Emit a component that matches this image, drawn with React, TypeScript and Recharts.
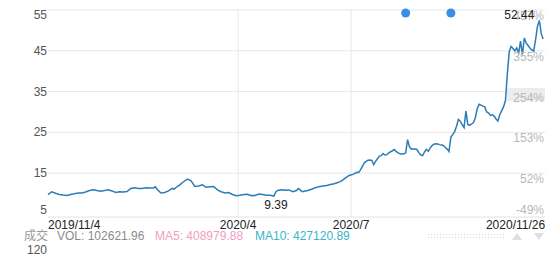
import React from 'react';
import { LineChart, Line, XAxis, YAxis, ReferenceLine, ReferenceDot } from 'recharts';

// trading-day index (position along the time axis)
const days = [
  0, 2, 4, 6, 8, 10, 12, 14, 16, 18, 20, 22, 24, 26, 28, 30, 32, 34, 36, 38, 40, 42, 44, 46, 48, 50,
  52, 54, 56, 57, 58, 60, 62, 64, 66, 67, 68, 70, 72, 74, 76, 78, 80, 82, 84, 86, 88, 90, 92, 94, 96, 98,
  100, 102, 104, 106, 108, 110, 112, 114, 116, 118, 120, 121, 122, 124, 126, 128, 130, 132, 133, 134, 135,
  136, 138, 140, 142, 144, 146, 148, 150, 152, 154, 156, 158, 160, 162, 164, 165, 166, 167, 168, 169, 170,
  171, 172, 173, 174, 175, 176, 177, 178, 179, 180, 181, 182, 183, 184, 185, 186, 187, 188, 189, 190, 191,
  192, 193, 194, 195, 196, 197, 198, 199, 200, 201, 202, 203, 204, 205, 206, 207, 208, 209, 210, 211, 212,
  213, 214, 215, 216, 217, 218, 219, 220, 221, 222, 223, 224, 225, 226, 227, 228, 229, 230, 231, 232, 233,
  234, 235, 236, 237, 238, 239, 240, 241, 242, 243, 244, 245, 246, 247, 248, 249, 250, 251, 252, 253, 254,
  255, 256, 257, 258, 259, 260, 261, 262, 263,
];

const closes = [
  9.75, 10.45, 10.1, 9.78, 9.65, 9.55, 9.78, 9.95, 10.15, 10.15, 10.4, 10.75, 10.94, 10.75, 10.6, 10.75,
  10.94, 10.65, 10.27, 10.45, 10.4, 10.5, 11.26, 11.43, 11.26, 11.26, 11.43, 11.38, 11.38, 11.67, 11.0,
  10.15, 10.27, 10.65, 11.26, 11.08, 11.5, 12.15, 12.9, 13.53, 13.1, 11.75, 11.85, 12.15, 11.55, 11.67,
  11.75, 10.9, 10.45, 10.15, 10.27, 9.78, 9.5, 9.6, 9.78, 9.85, 9.5, 9.55, 9.9, 9.78, 9.6, 9.6, 9.39,
  10.4, 10.75, 10.94, 10.8, 10.9, 10.47, 10.75, 11.26, 10.9, 10.45, 10.57, 10.75, 11.05, 11.45, 11.7,
  11.85, 12.0, 12.25, 12.4, 12.7, 13.1, 13.85, 14.45, 14.7, 15.2, 15.15, 15.8, 16.65, 17.5, 17.9, 18.2,
  18.25, 18.15, 17.1, 17.9, 18.55, 19.2, 19.3, 19.8, 19.45, 19.55, 20.0, 20.25, 20.5, 20.8, 20.25, 20.0,
  19.75, 19.7, 19.75, 20.0, 23.2, 21.5, 20.9, 20.95, 20.9, 20.8, 20.05, 19.45, 19.3, 20.2, 20.85, 20.35,
  21.15, 21.75, 22.1, 22.2, 22.15, 22.0, 21.9, 21.8, 21.35, 20.9, 20.3, 23.85, 24.45, 25.2, 26.5, 28.2,
  27.75, 26.9, 26.2, 30.2, 26.95, 26.7, 27.05, 27.4, 28.6, 30.8, 31.9, 31.7, 31.45, 31.25, 30.0, 29.8,
  29.15, 29.3, 29.0, 28.3, 27.8, 29.4, 30.35, 31.3, 32.8, 39.4, 44.8, 46.05, 45.55, 44.95, 45.7, 44.45,
  47.35, 44.1, 48.1, 46.95, 46.3, 45.7, 45.2, 44.9, 47.75, 51.0, 52.44, 49.2, 47.9,
];

const priceTicks = [5, 15, 25, 35, 45, 55];
const gridPrices = [15, 25, 35, 45, 55];
const priceDomain: [number, number] = [4.26, 55];
const dayDomain: [number, number] = [0, 264];
const dateTickDays = [0, 101, 161, 263];
const dateTickLabels = ['2019/11/4', '2020/4', '2020/7', '2020/11/26'];
const monthLineDays = [101, 161];
const basePrice = 9.88;
const highlightTick = 35;
const highDay = 261;
const highValue = 52.44;
const lowDay = 120;
const lowValue = 9.39;
const eventDays = [190, 214];
const eventMarkerPrice = 54.26;
const volumeTitle = '成交';
const volumeText = 'VOL: 102621.96';
const ma5Text = 'MA5: 408979.88';
const ma10Text = 'MA10: 427120.89';
const volumeTopTick = '120';

const data = days.map((d, i) => ({ d, close: closes[i] }));

const FONT = '"Liberation Sans", Arial, "Noto Sans CJK SC", sans-serif';
const GRID = '#e8e8e8';

const LeftTick = (props: any) => {
  const { x, y, payload } = props;
  const v = payload.value;
  const dy = v === priceTicks[priceTicks.length - 1] ? 5 : v === priceTicks[0] ? -4 : 0;
  return (
    <text x={x} y={y + dy + 4} textAnchor="end" fill="#555" fontSize={12} fontFamily={FONT}>
      {v}
    </text>
  );
};

const makePctLabel = (v: number) => (props: any) => {
  const vb = props.viewBox || {};
  const right = (vb.x || 0) + (vb.width || 0);
  const y = vb.y || 0;
  const pct = Math.round((v / basePrice - 1) * 100);
  const dy = v === priceTicks[0] ? -4 : 6;
  return (
    <g>
      {v === highlightTick && <rect x={right - 38} y={y - 3.6} width={38} height={13} fill="#ececec" />}
      <text x={right - 1} y={y + dy + 4} textAnchor="end" fill="#b8b8b8" fontSize={12} fontFamily={FONT}>
        {pct}%
      </text>
    </g>
  );
};

const DateTick = (props: any) => {
  const { x, y, payload } = props;
  const i = dateTickDays.indexOf(payload.value);
  const last = dateTickDays.length - 1;
  const anchor = i === 0 ? 'start' : i === last ? 'end' : 'middle';
  const dx = i === last ? 2 : 0;
  return (
    <text x={x + dx} y={y + 12} textAnchor={anchor} fill="#222" fontSize={12} fontFamily={FONT}>
      {dateTickLabels[i]}
    </text>
  );
};

const HighLabel = (props: any) => (
  <text x={props.cx - 5} y={props.cy - 1} textAnchor="end" fill="#222" fontSize={12} fontFamily={FONT}>
    {highValue}
  </text>
);

const LowLabel = (props: any) => (
  <text x={props.cx + 2} y={props.cy + 12.5} textAnchor="middle" fill="#222" fontSize={12} fontFamily={FONT}>
    {lowValue}
  </text>
);

const textStyle: React.CSSProperties = {
  position: 'absolute',
  top: 230,
  fontSize: 12,
  lineHeight: '12px',
  fontFamily: FONT,
  whiteSpace: 'nowrap',
};

export default function App() {
  return (
    <div
      style={{
        position: 'absolute',
        left: 0,
        top: 0,
        width: 553,
        height: 257,
        overflow: 'hidden',
        background: '#fff',
      }}
    >
      <div style={{ position: 'absolute', left: 0, top: 0 }}>
        <LineChart width={553} height={257} data={data} margin={{ top: 10, right: 8, left: 0, bottom: 26 }}>
          <XAxis
            dataKey="d"
            type="number"
            domain={dayDomain}
            ticks={dateTickDays}
            interval={0}
            tick={DateTick}
            tickSize={0}
            tickMargin={0}
            tickLine={false}
            axisLine={{ stroke: '#e2e2e2' }}
            height={14}
          />
          <YAxis
            domain={priceDomain}
            ticks={priceTicks}
            interval={0}
            tick={LeftTick}
            tickSize={0}
            tickMargin={1}
            axisLine={false}
            tickLine={false}
            width={48}
          />
          {gridPrices.map((p) => (
            <ReferenceLine key={'h' + p} y={p} stroke={GRID} strokeWidth={1} />
          ))}
          {monthLineDays.map((d) => (
            <ReferenceLine key={'v' + d} x={d} stroke={GRID} strokeWidth={1} />
          ))}
          <Line
            type="linear"
            dataKey="close"
            stroke="#2a7db8"
            strokeWidth={1.5}
            dot={false}
            activeDot={false}
            isAnimationActive={false}
          />
          {priceTicks.map((p) => (
            <ReferenceLine
              key={'pct' + p}
              y={p}
              stroke="none"
              strokeOpacity={0}
              label={{ content: makePctLabel(p) } as any}
            />
          ))}
          {eventDays.map((d) => (
            <ReferenceDot key={'e' + d} x={d} y={eventMarkerPrice} r={4.5} fill="#3a8ee6" stroke="none" />
          ))}
          <ReferenceDot x={highDay} y={highValue} r={1} shape={HighLabel} />
          <ReferenceDot x={lowDay} y={lowValue} r={1} shape={LowLabel} />
        </LineChart>
      </div>

      <div style={{ position: 'absolute', left: 0, top: 243 }}>
        <LineChart width={553} height={14} data={data} margin={{ top: 0, right: 8, left: 48, bottom: 0 }}>
          <XAxis dataKey="d" type="number" domain={dayDomain} hide />
          <YAxis domain={[0, 120]} hide />
          <ReferenceLine y={120} stroke={GRID} />
          {monthLineDays.map((d) => (
            <ReferenceLine key={'vv' + d} x={d} stroke={GRID} />
          ))}
        </LineChart>
      </div>

      <span style={{ ...textStyle, left: 24, color: '#9a9a9a' }}>{volumeTitle}</span>
      <span style={{ ...textStyle, left: 57, color: '#8a8a8a' }}>{volumeText}</span>
      <span style={{ ...textStyle, left: 155, color: '#f19ec0' }}>{ma5Text}</span>
      <span style={{ ...textStyle, left: 255, color: '#3bb3c9' }}>{ma10Text}</span>
      <span style={{ ...textStyle, top: 244, left: 0, width: 47, textAlign: 'right', color: '#555' }}>
        {volumeTopTick}
      </span>

      <div
        style={{
          position: 'absolute',
          left: 427,
          top: 233,
          width: 77,
          height: 7,
          backgroundImage: 'radial-gradient(circle, #d6d6d6 0.8px, transparent 1px)',
          backgroundSize: '3px 3px',
        }}
      />
      <svg style={{ position: 'absolute', left: 510, top: 232 }} width={40} height={10}>
        <polygon points="2,8 7,1 12,8" fill="#dedede" />
        <polygon points="24,1 34,1 29,8" fill="#dedede" />
      </svg>
    </div>
  );
}
